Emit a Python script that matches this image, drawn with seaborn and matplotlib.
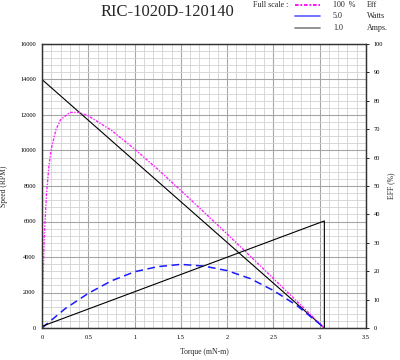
import matplotlib
matplotlib.use("Agg")
import matplotlib.pyplot as plt
import seaborn as sns
import pandas as pd
from matplotlib.ticker import MultipleLocator
from matplotlib.lines import Line2D

# ==============================
# DATA
# ==============================
title = "RIC-1020D-120140"

# full scale of the right axis
full_eff = 100.0   # %
full_watts = 5.0   # W
full_amps = 1.0    # A

torque_speed = [0.0, 3.05]
speed_rpm = [14000, 0]

torque_cur = [0.0, 3.05, 3.05]
current_a = [0.006, 0.377, 0.0]

torque_eff = [0, 0.005, 0.01, 0.02, 0.03, 0.05, 0.075, 0.1, 0.15, 0.2, 0.3, 0.4,
              0.5, 0.75, 1.0, 1.25, 1.5, 1.75, 2.0, 2.25, 2.5, 2.75, 3.0, 3.05]
eff_pct = [0, 8.7, 16.0, 27.5, 36.0, 47.8, 57.1, 63.0, 69.8, 73.3, 75.9, 75.9,
           74.7, 69.6, 63.0, 55.9, 48.4, 40.8, 33.1, 25.3, 17.4, 9.5, 1.6, 0]

torque_pow = [0, 0.25, 0.5, 0.75, 1.0, 1.25, 1.5, 1.75, 2.0, 2.25, 2.5, 2.75, 3.0, 3.05]
power_w = [0, 0.34, 0.61, 0.83, 0.99, 1.08, 1.12, 1.09, 1.01, 0.87, 0.66, 0.40, 0.07, 0]

x_ticks = [0, 0.5, 1, 1.5, 2, 2.5, 3, 3.5]
x_tick_labels = ["0", "0.5", "1", "1.5", "2", "2.5", "3", "3.5"]

# ==============================
# STYLE
# ==============================
sns.set_theme(style="white")
plt.rcParams["font.family"] = ["Liberation Serif", "DejaVu Serif"]

W, H = 400, 360
fig = plt.figure(figsize=(4, 3.6), dpi=100)
ax = fig.add_axes([42 / W, 1 - 328 / H, 324 / W, 284 / H])
ax2 = ax.twinx()

# ==============================
# CURVES
# ==============================
sns.lineplot(x=torque_speed, y=speed_rpm, ax=ax, color="black", lw=0.8,
             estimator=None, sort=False)

df_eff = pd.DataFrame({"t": torque_eff, "v": [e / full_eff * 100 for e in eff_pct]})
sns.lineplot(data=df_eff, x="t", y="v", ax=ax2, color="#ff22ff", lw=1.0,
             estimator=None, sort=False).lines[-1].set_dashes((2, 1, 1, 1))

df_pow = pd.DataFrame({"t": torque_pow, "v": [p / full_watts * 100 for p in power_w]})
sns.lineplot(data=df_pow, x="t", y="v", ax=ax2, color="#1a1aff", lw=1.1,
             estimator=None, sort=False).lines[-1].set_dashes((5, 3))

df_cur = pd.DataFrame({"t": torque_cur, "v": [c / full_amps * 100 for c in current_a]})
sns.lineplot(data=df_cur, x="t", y="v", ax=ax2, color="black", lw=0.8,
             estimator=None, sort=False)

# ==============================
# AXES
# ==============================
ax.set_xlim(0, 3.5)
ax.set_ylim(0, 16000)
ax2.set_ylim(0, 100)

ax.set_xticks(x_ticks)
ax.set_xticklabels(x_tick_labels)
ax.set_yticks(range(0, 16001, 2000))
ax2.set_yticks(range(0, 101, 10))

ax.xaxis.set_minor_locator(MultipleLocator(0.1))
ax.yaxis.set_minor_locator(MultipleLocator(400))
ax.grid(which="minor", color="#d2d2d2", lw=0.6)
ax.grid(which="major", color="#a6a6a6", lw=0.8)
ax2.grid(False)

ax.tick_params(which="both", length=0, labelsize=4.6, pad=4.5, colors="black")
ax.tick_params(axis="x", pad=5)
ax2.tick_params(axis="y", length=2, width=0.6, labelsize=4.6, pad=3.5,
                direction="out", colors="black")

for a in (ax, ax2):
    for s in a.spines.values():
        s.set_color("#333333")
        s.set_linewidth(0.9)

ax.set_xlabel("Torque (mN-m)", fontsize=5.5)
ax.set_ylabel("Speed (RPM)", fontsize=5.5)
ax2.set_ylabel("EFF (%)", fontsize=5.5)
ax.xaxis.set_label_coords(0.5, -0.07)
ax.yaxis.set_label_coords(-0.105, 0.5)
ax2.yaxis.set_label_coords(1.065, 0.5)

# ==============================
# TITLE + FULL SCALE LEGEND
# ==============================
fig.text(167 / W, 1 - 12 / H, title, ha="center", va="center", fontsize=12)

rows = [
    (5, "100  %", "Eff", "#ff00ff", (2, 1, 1, 1)),
    (16, "5.0", "Watts", "#6a6aff", None),
    (28, "1.0", "Amps.", "#8a8a8a", None),
]
fig.text(288 / W, 1 - 5 / H, "Full scale :", ha="right", va="center", fontsize=5.8)
for y, val, name, col, dash in rows:
    ln = Line2D([295 / W, 320 / W], [1 - y / H, 1 - y / H], transform=fig.transFigure,
                color=col, lw=1.3)
    if dash:
        ln.set_dashes(dash)
    fig.add_artist(ln)
    fig.text(333 / W, 1 - y / H, val, ha="left", va="center", fontsize=5.8)
    fig.text(367 / W, 1 - y / H, name, ha="left", va="center", fontsize=5.8)

fig.savefig("out.png", dpi=100)
plt.close(fig)
